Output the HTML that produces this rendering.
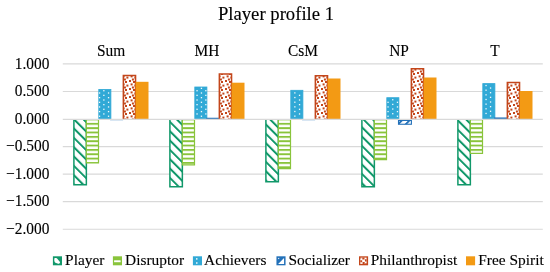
<!DOCTYPE html>
<html><head><meta charset="utf-8"><title>Player profile 1</title>
<style>
html,body{margin:0;padding:0;background:#fff;}
body{width:550px;height:272px;overflow:hidden;}
svg{display:block;}
text{font-family:"Liberation Serif","Times New Roman",serif;fill:#000;stroke:#000;stroke-width:0.12px;}
.ax{font-size:15.4px;}
.lg{font-size:15.4px;}
.tt{font-size:18.7px;}
</style></head><body>
<svg width="550" height="272" viewBox="0 0 550 272">
<defs>
<pattern id="pPlayer" patternUnits="userSpaceOnUse" width="6.6" height="6.6" patternTransform="rotate(-45)">
  <rect width="6.6" height="6.6" fill="#fff"/><rect x="0" y="0" width="2.0" height="6.6" fill="#11986A"/>
</pattern>
<pattern id="pDisr" patternUnits="userSpaceOnUse" width="4" height="4.35" y="1.05">
  <rect width="4" height="4.35" fill="#fff"/><rect x="0" y="0" width="4" height="1.9" fill="#89C43B"/>
</pattern>
<pattern id="pSoc" patternUnits="userSpaceOnUse" width="5.4" height="5.4" x="1.2" patternTransform="rotate(45)">
  <rect width="5.4" height="5.4" fill="#fff"/><rect x="0" y="0" width="1.9" height="5.4" fill="#2371B9"/>
</pattern>
<pattern id="pPhil" patternUnits="userSpaceOnUse" width="8" height="8" x="0" y="0">
  <rect width="8" height="8" fill="#fff"/>
  <g fill="#C3461B">
  <rect x="1" y="0" width="2" height="2"/>
  <rect x="5" y="1" width="2" height="2"/>
  <rect x="2.6" y="3.4" width="2" height="2"/>
  <rect x="6.4" y="4.6" width="2" height="2"/>
  <rect x="-1.6" y="4.6" width="2" height="2"/>
  <rect x="3.9" y="6.5" width="2" height="2"/>
  <rect x="3.9" y="-1.5" width="2" height="2"/>
  </g>
</pattern>
<g id="ic0"><rect width="9.1" height="9.0" fill="#11986A"/><path d="M1.4 2.3 Q1.5 1.8 2.2 1.8 L3.3 1.7 Q3.8 1.7 4.2 2.1 L6.9 5.5 Q7.4 6.2 6.9 6.8 L6.4 7.3 Q5.9 7.6 5.3 7.4 L2.5 6.4 Q1.9 6.1 1.7 5.5 L1.4 4.4 Z" fill="#fff"/></g>
<g id="ic1"><rect width="9.1" height="9.0" fill="#89C43B"/><rect x="1.2" y="4.0" width="6.5" height="1.9" fill="#fff"/></g>
<g id="ic2"><rect width="9.1" height="9.0" fill="#31A9D6"/><rect x="3.1" y="1.9" width="1.5" height="1.4" fill="#fff"/><rect x="3.1" y="6.0" width="1.5" height="1.4" fill="#fff"/></g>
<g id="ic3"><rect width="9.1" height="9.0" fill="#2371B9"/><path d="M1.7 7.6 L7.6 1.8 L7.6 7.6 Z" fill="#fff"/><rect x="1.5" y="1.6" width="1.3" height="1.2" fill="#fff" opacity="0.8"/></g>
<g id="ic4"><rect width="9.1" height="9.0" fill="#C3461B"/><rect x="1.3" y="1.3" width="6.3" height="6.3" fill="#fff"/><path d="M3.3 1.3h2.2v1.9h-2.2z M5.9 3.0h1.7v2.1h-1.7z M1.3 4.0h1.9v1.9h-1.9z M3.6 5.6h2.1v2h-2.1z M1.3 1.3h1v1h-1z M6.4 6.6h1.2v1h-1.2z" fill="#C3461B"/></g>
<g id="ic5"><rect width="9.1" height="9.0" fill="#F39A14"/></g>
</defs>
<rect width="550" height="272" fill="#fff"/>
<text x="276" y="19.9" text-anchor="middle" class="tt">Player profile 1</text>
<line x1="62.80" y1="63.95" x2="542.80" y2="63.95" stroke="#D9D9D9" stroke-width="1.2"/>
<line x1="62.80" y1="91.50" x2="542.80" y2="91.50" stroke="#D9D9D9" stroke-width="1.2"/>
<line x1="62.80" y1="146.60" x2="542.80" y2="146.60" stroke="#D9D9D9" stroke-width="1.2"/>
<line x1="62.80" y1="174.15" x2="542.80" y2="174.15" stroke="#D9D9D9" stroke-width="1.2"/>
<line x1="62.80" y1="201.70" x2="542.80" y2="201.70" stroke="#D9D9D9" stroke-width="1.2"/>
<line x1="62.80" y1="229.25" x2="542.80" y2="229.25" stroke="#D9D9D9" stroke-width="1.2"/>
<rect x="73.90" y="119.05" width="12.45" height="65.60" fill="url(#pPlayer)"/>
<path d="M73.90 119.05V184.65H86.35V119.05" fill="none" stroke="#11986A" stroke-width="1.5"/>
<rect x="86.35" y="119.05" width="12.15" height="43.75" fill="url(#pDisr)"/>
<path d="M86.35 119.05V162.80H98.50V119.05" fill="none" stroke="#89C43B" stroke-width="1.2"/>
<rect x="98.80" y="89.40" width="12.10" height="29.65" fill="#31A9D6" stroke="#31A9D6" stroke-width="0.8"/>
<rect x="98.90" y="92.35" width="1.3" height="1.3" fill="#fff" opacity="0.95"/>
<rect x="98.90" y="97.00" width="1.3" height="1.3" fill="#fff" opacity="0.95"/>
<rect x="98.90" y="101.65" width="1.3" height="1.3" fill="#fff" opacity="0.95"/>
<rect x="98.90" y="106.30" width="1.3" height="1.3" fill="#fff" opacity="0.95"/>
<rect x="98.90" y="110.95" width="1.3" height="1.3" fill="#fff" opacity="0.95"/>
<rect x="98.90" y="115.60" width="1.3" height="1.3" fill="#fff" opacity="0.95"/>
<rect x="103.20" y="90.05" width="1.3" height="1.3" fill="#fff" opacity="0.95"/>
<rect x="103.20" y="94.70" width="1.3" height="1.3" fill="#fff" opacity="0.95"/>
<rect x="103.20" y="99.35" width="1.3" height="1.3" fill="#fff" opacity="0.95"/>
<rect x="103.20" y="104.00" width="1.3" height="1.3" fill="#fff" opacity="0.95"/>
<rect x="103.20" y="108.65" width="1.3" height="1.3" fill="#fff" opacity="0.95"/>
<rect x="103.20" y="113.30" width="1.3" height="1.3" fill="#fff" opacity="0.95"/>
<rect x="107.90" y="92.35" width="1.3" height="1.3" fill="#fff" opacity="0.95"/>
<rect x="107.90" y="97.00" width="1.3" height="1.3" fill="#fff" opacity="0.95"/>
<rect x="107.90" y="101.65" width="1.3" height="1.3" fill="#fff" opacity="0.95"/>
<rect x="107.90" y="106.30" width="1.3" height="1.3" fill="#fff" opacity="0.95"/>
<rect x="107.90" y="110.95" width="1.3" height="1.3" fill="#fff" opacity="0.95"/>
<rect x="107.90" y="115.60" width="1.3" height="1.3" fill="#fff" opacity="0.95"/>
<rect x="110.10" y="119.05" width="13.00" height="1.20" fill="#2371B9" opacity="0.7"/>
<rect x="123.35" y="75.45" width="12.20" height="43.60" fill="url(#pPhil)"/>
<path d="M123.35 119.05V75.45H135.55V119.05" fill="none" stroke="#C3461B" stroke-width="1.5"/>
<rect x="135.55" y="81.80" width="12.95" height="37.25" fill="#F39A14"/>
<rect x="169.90" y="119.05" width="12.45" height="67.80" fill="url(#pPlayer)"/>
<path d="M169.90 119.05V186.85H182.35V119.05" fill="none" stroke="#11986A" stroke-width="1.5"/>
<rect x="182.35" y="119.05" width="12.15" height="45.75" fill="url(#pDisr)"/>
<path d="M182.35 119.05V164.80H194.50V119.05" fill="none" stroke="#89C43B" stroke-width="1.2"/>
<rect x="194.80" y="87.00" width="12.10" height="32.05" fill="#31A9D6" stroke="#31A9D6" stroke-width="0.8"/>
<rect x="196.40" y="90.05" width="1.3" height="1.3" fill="#fff" opacity="0.95"/>
<rect x="196.40" y="94.70" width="1.3" height="1.3" fill="#fff" opacity="0.95"/>
<rect x="196.40" y="99.35" width="1.3" height="1.3" fill="#fff" opacity="0.95"/>
<rect x="196.40" y="104.00" width="1.3" height="1.3" fill="#fff" opacity="0.95"/>
<rect x="196.40" y="108.65" width="1.3" height="1.3" fill="#fff" opacity="0.95"/>
<rect x="196.40" y="113.30" width="1.3" height="1.3" fill="#fff" opacity="0.95"/>
<rect x="200.80" y="87.70" width="1.3" height="1.3" fill="#fff" opacity="0.95"/>
<rect x="200.80" y="92.35" width="1.3" height="1.3" fill="#fff" opacity="0.95"/>
<rect x="200.80" y="97.00" width="1.3" height="1.3" fill="#fff" opacity="0.95"/>
<rect x="200.80" y="101.65" width="1.3" height="1.3" fill="#fff" opacity="0.95"/>
<rect x="200.80" y="106.30" width="1.3" height="1.3" fill="#fff" opacity="0.95"/>
<rect x="200.80" y="110.95" width="1.3" height="1.3" fill="#fff" opacity="0.95"/>
<rect x="200.80" y="115.60" width="1.3" height="1.3" fill="#fff" opacity="0.95"/>
<rect x="205.20" y="90.05" width="1.3" height="1.3" fill="#fff" opacity="0.95"/>
<rect x="205.20" y="94.70" width="1.3" height="1.3" fill="#fff" opacity="0.95"/>
<rect x="205.20" y="99.35" width="1.3" height="1.3" fill="#fff" opacity="0.95"/>
<rect x="205.20" y="104.00" width="1.3" height="1.3" fill="#fff" opacity="0.95"/>
<rect x="205.20" y="108.65" width="1.3" height="1.3" fill="#fff" opacity="0.95"/>
<rect x="205.20" y="113.30" width="1.3" height="1.3" fill="#fff" opacity="0.95"/>
<rect x="206.10" y="117.75" width="13.00" height="1.30" fill="#2371B9"/>
<rect x="219.35" y="73.95" width="12.20" height="45.10" fill="url(#pPhil)"/>
<path d="M219.35 119.05V73.95H231.55V119.05" fill="none" stroke="#C3461B" stroke-width="1.5"/>
<rect x="231.55" y="82.70" width="12.95" height="36.35" fill="#F39A14"/>
<rect x="265.90" y="119.05" width="12.45" height="62.80" fill="url(#pPlayer)"/>
<path d="M265.90 119.05V181.85H278.35V119.05" fill="none" stroke="#11986A" stroke-width="1.5"/>
<rect x="278.35" y="119.05" width="12.15" height="49.65" fill="url(#pDisr)"/>
<path d="M278.35 119.05V168.70H290.50V119.05" fill="none" stroke="#89C43B" stroke-width="1.2"/>
<rect x="290.80" y="90.30" width="12.10" height="28.75" fill="#31A9D6" stroke="#31A9D6" stroke-width="0.8"/>
<rect x="294.20" y="92.25" width="1.3" height="1.3" fill="#fff" opacity="0.95"/>
<rect x="294.20" y="96.90" width="1.3" height="1.3" fill="#fff" opacity="0.95"/>
<rect x="294.20" y="101.55" width="1.3" height="1.3" fill="#fff" opacity="0.95"/>
<rect x="294.20" y="106.20" width="1.3" height="1.3" fill="#fff" opacity="0.95"/>
<rect x="294.20" y="110.85" width="1.3" height="1.3" fill="#fff" opacity="0.95"/>
<rect x="294.20" y="115.50" width="1.3" height="1.3" fill="#fff" opacity="0.95"/>
<rect x="298.90" y="94.70" width="1.3" height="1.3" fill="#fff" opacity="0.95"/>
<rect x="298.90" y="99.35" width="1.3" height="1.3" fill="#fff" opacity="0.95"/>
<rect x="298.90" y="104.00" width="1.3" height="1.3" fill="#fff" opacity="0.95"/>
<rect x="298.90" y="108.65" width="1.3" height="1.3" fill="#fff" opacity="0.95"/>
<rect x="298.90" y="113.30" width="1.3" height="1.3" fill="#fff" opacity="0.95"/>
<rect x="302.10" y="119.05" width="13.00" height="1.20" fill="#2371B9" opacity="0.7"/>
<rect x="315.35" y="75.65" width="12.20" height="43.40" fill="url(#pPhil)"/>
<path d="M315.35 119.05V75.65H327.55V119.05" fill="none" stroke="#C3461B" stroke-width="1.5"/>
<rect x="327.55" y="78.50" width="12.95" height="40.55" fill="#F39A14"/>
<rect x="361.90" y="119.05" width="12.45" height="67.80" fill="url(#pPlayer)"/>
<path d="M361.90 119.05V186.85H374.35V119.05" fill="none" stroke="#11986A" stroke-width="1.5"/>
<rect x="374.35" y="119.05" width="12.15" height="40.55" fill="url(#pDisr)"/>
<path d="M374.35 119.05V159.60H386.50V119.05" fill="none" stroke="#89C43B" stroke-width="1.2"/>
<rect x="386.80" y="97.70" width="12.10" height="21.35" fill="#31A9D6" stroke="#31A9D6" stroke-width="0.8"/>
<rect x="387.40" y="101.65" width="1.3" height="1.3" fill="#fff" opacity="0.95"/>
<rect x="387.40" y="106.30" width="1.3" height="1.3" fill="#fff" opacity="0.95"/>
<rect x="387.40" y="110.95" width="1.3" height="1.3" fill="#fff" opacity="0.95"/>
<rect x="387.40" y="115.60" width="1.3" height="1.3" fill="#fff" opacity="0.95"/>
<rect x="392.10" y="99.10" width="1.3" height="1.3" fill="#fff" opacity="0.95"/>
<rect x="392.10" y="103.75" width="1.3" height="1.3" fill="#fff" opacity="0.95"/>
<rect x="392.10" y="108.40" width="1.3" height="1.3" fill="#fff" opacity="0.95"/>
<rect x="392.10" y="113.05" width="1.3" height="1.3" fill="#fff" opacity="0.95"/>
<rect x="396.80" y="101.65" width="1.3" height="1.3" fill="#fff" opacity="0.95"/>
<rect x="396.80" y="106.30" width="1.3" height="1.3" fill="#fff" opacity="0.95"/>
<rect x="396.80" y="110.95" width="1.3" height="1.3" fill="#fff" opacity="0.95"/>
<rect x="396.80" y="115.60" width="1.3" height="1.3" fill="#fff" opacity="0.95"/>
<rect x="398.50" y="120.45" width="12.90" height="3.80" fill="url(#pSoc)" stroke="#2371B9" stroke-width="1.1"/>
<rect x="411.35" y="68.85" width="12.20" height="50.20" fill="url(#pPhil)"/>
<path d="M411.35 119.05V68.85H423.55V119.05" fill="none" stroke="#C3461B" stroke-width="1.5"/>
<rect x="423.55" y="77.50" width="12.95" height="41.55" fill="#F39A14"/>
<rect x="457.90" y="119.05" width="12.45" height="65.80" fill="url(#pPlayer)"/>
<path d="M457.90 119.05V184.85H470.35V119.05" fill="none" stroke="#11986A" stroke-width="1.5"/>
<rect x="470.35" y="119.05" width="12.15" height="34.35" fill="url(#pDisr)"/>
<path d="M470.35 119.05V153.40H482.50V119.05" fill="none" stroke="#89C43B" stroke-width="1.2"/>
<rect x="482.80" y="83.60" width="12.10" height="35.45" fill="#31A9D6" stroke="#31A9D6" stroke-width="0.8"/>
<rect x="485.40" y="84.90" width="1.3" height="1.3" fill="#fff" opacity="0.95"/>
<rect x="485.40" y="89.55" width="1.3" height="1.3" fill="#fff" opacity="0.95"/>
<rect x="485.40" y="94.20" width="1.3" height="1.3" fill="#fff" opacity="0.95"/>
<rect x="485.40" y="98.85" width="1.3" height="1.3" fill="#fff" opacity="0.95"/>
<rect x="485.40" y="103.50" width="1.3" height="1.3" fill="#fff" opacity="0.95"/>
<rect x="485.40" y="108.15" width="1.3" height="1.3" fill="#fff" opacity="0.95"/>
<rect x="485.40" y="112.80" width="1.3" height="1.3" fill="#fff" opacity="0.95"/>
<rect x="489.90" y="87.40" width="1.3" height="1.3" fill="#fff" opacity="0.95"/>
<rect x="489.90" y="92.05" width="1.3" height="1.3" fill="#fff" opacity="0.95"/>
<rect x="489.90" y="96.70" width="1.3" height="1.3" fill="#fff" opacity="0.95"/>
<rect x="489.90" y="101.35" width="1.3" height="1.3" fill="#fff" opacity="0.95"/>
<rect x="489.90" y="106.00" width="1.3" height="1.3" fill="#fff" opacity="0.95"/>
<rect x="489.90" y="110.65" width="1.3" height="1.3" fill="#fff" opacity="0.95"/>
<rect x="489.90" y="115.30" width="1.3" height="1.3" fill="#fff" opacity="0.95"/>
<rect x="494.10" y="117.45" width="13.00" height="1.60" fill="#2371B9"/>
<rect x="507.35" y="82.55" width="12.20" height="36.50" fill="url(#pPhil)"/>
<path d="M507.35 119.05V82.55H519.55V119.05" fill="none" stroke="#C3461B" stroke-width="1.5"/>
<rect x="519.55" y="91.00" width="12.95" height="28.05" fill="#F39A14"/>
<line x1="62.80" y1="119.35" x2="542.80" y2="119.35" stroke="#D9D9D9" stroke-width="1.2"/>
<text transform="translate(49.4 68.55) scale(1 1.06)" text-anchor="end" class="ax">1.000</text>
<text transform="translate(49.4 96.10) scale(1 1.06)" text-anchor="end" class="ax">0.500</text>
<text transform="translate(49.4 123.65) scale(1 1.06)" text-anchor="end" class="ax">0.000</text>
<text transform="translate(49.4 151.20) scale(1 1.06)" text-anchor="end" class="ax">−0.500</text>
<text transform="translate(49.4 178.75) scale(1 1.06)" text-anchor="end" class="ax">−1.000</text>
<text transform="translate(49.4 206.30) scale(1 1.06)" text-anchor="end" class="ax">−1.500</text>
<text transform="translate(49.4 233.85) scale(1 1.06)" text-anchor="end" class="ax">−2.000</text>
<text transform="translate(111.00 55.7) scale(1 1.06)" text-anchor="middle" class="ax">Sum</text>
<text transform="translate(207.00 55.7) scale(1 1.06)" text-anchor="middle" class="ax">MH</text>
<text transform="translate(303.00 55.7) scale(1 1.06)" text-anchor="middle" class="ax">CsM</text>
<text transform="translate(399.00 55.7) scale(1 1.06)" text-anchor="middle" class="ax">NP</text>
<text transform="translate(495.00 55.7) scale(1 1.06)" text-anchor="middle" class="ax">T</text>
<use href="#ic0" x="52.90" y="256.3"/>
<text transform="translate(65.10 265.35) scale(1 1.0)" class="lg">Player</text>
<use href="#ic1" x="112.90" y="256.3"/>
<text transform="translate(125.10 265.35) scale(1 1.0)" class="lg">Disruptor</text>
<use href="#ic2" x="192.90" y="256.3"/>
<text transform="translate(204.10 265.35) scale(1 1.0)" class="lg">Achievers</text>
<use href="#ic3" x="276.45" y="256.3"/>
<text transform="translate(288.45 265.35) scale(1 1.0)" class="lg">Socializer</text>
<use href="#ic4" x="359.00" y="256.3"/>
<text transform="translate(370.80 265.35) scale(1 1.0)" class="lg">Philanthropist</text>
<use href="#ic5" x="466.00" y="256.3"/>
<text transform="translate(478.30 265.35) scale(1 1.0)" class="lg">Free Spirit</text>
</svg>
</body></html>
